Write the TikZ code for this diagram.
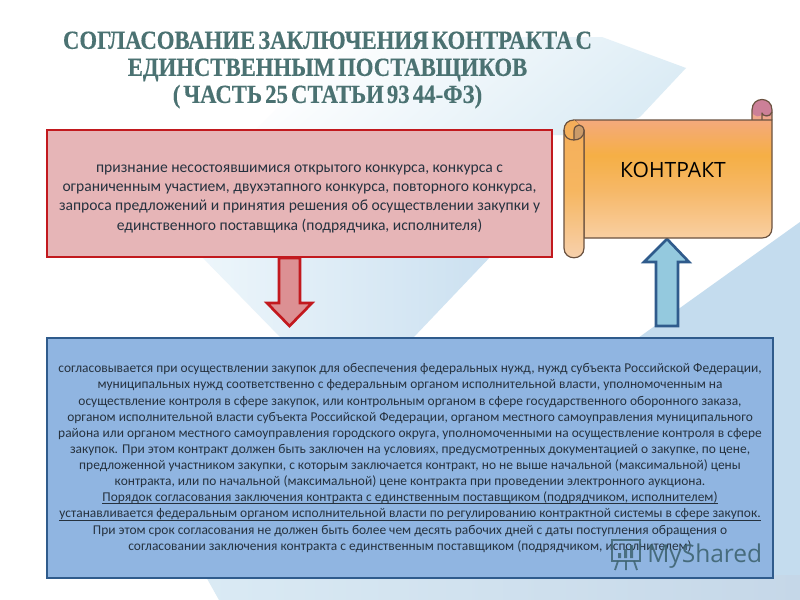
\documentclass[tikz,border=0pt]{standalone}
\usepackage{fontspec}
\setmainfont{Carlito}
\newfontfamily\titlefont[FakeStretch=0.87,WordSpace=0.55,BoldFeatures={FakeBold=0.3}]{Liberation Serif}
\newfontfamily\scrollfont{Open Sans}
\definecolor{titlecol}{HTML}{4B7272}
\definecolor{bodycol}{HTML}{26323F}
\definecolor{redline}{HTML}{C2191E}
\definecolor{redfill}{HTML}{E6B5B7}
\definecolor{blueline}{HTML}{2F5B8C}
\definecolor{bluefill}{HTML}{90B5E1}
\definecolor{scrollline}{HTML}{6B5240}
\definecolor{arrowred}{HTML}{DC9093}
\definecolor{arrowblue}{HTML}{94C9DE}
\definecolor{markcol}{HTML}{3F6472}
\definecolor{sA}{HTML}{F9CFA2}
\definecolor{sB}{HTML}{F6B868}
\definecolor{sC}{HTML}{F5AF45}
\definecolor{sD}{HTML}{F4A97C}
\definecolor{rA}{HTML}{F7D2B0}
\definecolor{rB}{HTML}{F6B660}
\definecolor{rC}{HTML}{F4AE5A}
\definecolor{curlpink}{HTML}{CC8098}
\definecolor{curlpeach}{HTML}{F0A88C}
\definecolor{curltan}{HTML}{CB9B69}
\definecolor{bgtop}{HTML}{DCECF5}
\definecolor{bgVa}{HTML}{EDF6FB}
\definecolor{bgVb}{HTML}{CBE0F0}
\definecolor{bgR}{HTML}{C4DCEE}
\definecolor{bgBa}{HTML}{DAEAF4}
\definecolor{bgBb}{HTML}{C5D7E8}
\pgfdeclareverticalshading{scrollbody}{100bp}{
  color(0bp)=(sA);
  color(25bp)=(sA);
  color(45bp)=(sB);
  color(60bp)=(sC);
  color(75bp)=(sD);
  color(100bp)=(sD)}
\pgfdeclareverticalshading{scrollroll}{100bp}{
  color(0bp)=(rA);
  color(25bp)=(rA);
  color(50bp)=(rB);
  color(75bp)=(rC);
  color(100bp)=(rC)}
\tikzset{
  titletext/.style={font=\titlefont\bfseries\fontsize{19.6}{20.3}\selectfont,text=titlecol,align=center,inner sep=0pt},
  redbox/.style={draw=redline,line width=2.2pt,fill=redfill,minimum width=378.75pt,minimum height=95.25pt,inner sep=0pt,align=center,text=bodycol,font=\fontsize{11.7}{14.5}\selectfont},
  bluebox/.style={draw=blueline,line width=1.9pt,fill=bluefill,minimum width=544.5pt,minimum height=180pt,inner sep=0pt,align=center,text=bodycol,font=\fontsize{10.07}{12.1}\selectfont},
  scrollpart/.style={draw=scrollline,line width=0.9pt,line join=round},
  downarrow/.style={draw=redline,line width=2pt,fill=arrowred,line join=miter},
  uparrow/.style={draw=blueline,line width=2pt,fill=arrowblue,line join=miter},
  watermark/.style={font=\scrollfont\fontsize{18.4}{20}\selectfont,text=markcol,inner sep=0pt}
}
\begin{document}
\begin{tikzpicture}[x=0.75pt,y=-0.75pt]
\useasboundingbox (0,0) rectangle (800,600);
\fill[white] (0,0) rectangle (800,600);
% background shapes
\shade[top color=white,bottom color=bgtop,shading angle=40] (250,135) -- (350,37) -- (602,37) -- (686,68) -- (640,117) -- (600,135) -- cycle;
\shade[left color=bgVa,right color=bgVb] (200,255) -- (281,338) -- (413,338) -- (492,255) -- cycle;
\fill[bgR] (800,222) -- (638,338) -- (638,585) -- (800,600) -- cycle;
\shade[left color=bgBa,right color=bgBb] (205,575) -- (800,575) -- (800,600) -- (219,600) -- cycle;
% title
\node[titletext] (title) at (327.5,70) {СОГЛАСОВАНИЕ ЗАКЛЮЧЕНИЯ КОНТРАКТА С\\ЕДИНСТВЕННЫМ ПОСТАВЩИКОВ\\( ЧАСТЬ 25 СТАТЬИ 93 44-ФЗ)};
% red box
\node[redbox] (rbox) at (299.5,193.5) {\rule{0pt}{13.5pt}признание несостоявшимися открытого конкурса, конкурса с\\ограниченным участием, двухэтапного конкурса, повторного конкурса,\\запроса предложений и принятия решения об осуществлении закупки у\\единственного поставщика (подрядчика, исполнителя)};
% blue box
\node[bluebox] (bbox) at (410,458) {согласовывается при осуществлении закупок для обеспечения федеральных нужд, нужд субъекта Российской Федерации,\\муниципальных нужд соответственно с федеральным органом исполнительной власти, уполномоченным на\\осуществление контроля в сфере закупок, или контрольным органом в сфере государственного оборонного заказа,\\органом исполнительной власти субъекта Российской Федерации, органом местного самоуправления муниципального\\района или органом местного самоуправления городского округа, уполномоченными на осуществление контроля в сфере\\закупок. При этом контракт должен быть заключен на условиях, предусмотренных документацией о закупке, по цене,\\предложенной участником закупки, с которым заключается контракт, но не выше начальной (максимальной) цены\\контракта, или по начальной (максимальной) цене контракта при проведении электронного аукциона.\\\underline{\smash{Порядок согласования заключения контракта с единственным поставщиком (подрядчиком, исполнителем)}}\\\underline{\smash{устанавливается федеральным органом исполнительной власти по регулированию контрактной системы в сфере закупок.}}\\При этом срок согласования не должен быть более чем десять рабочих дней с даты поступления обращения о\\согласовании заключения контракта с единственным поставщиком (подрядчиком, исполнителем)};
% arrows
\draw[downarrow] (279,258) -- (300,258) -- (300,303) -- (312,303) -- (289.5,326) -- (267,303) -- (279,303) -- cycle;
\draw[uparrow] (656,326) -- (678,326) -- (678,262) -- (689,262) -- (667,239) -- (644,262) -- (656,262) -- cycle;
% scroll: top right curl
\fill[curlpeach] (752,120) -- (752,110) -- (772,110) -- (772,120) -- cycle;
\fill[curlpink] (752,110) .. controls (752,96) and (772,96) .. (772,110) -- (772,113) .. controls (772,118) and (762,118) .. (762,113) .. controls (762,118) and (752,118) .. (752,110) -- cycle;
\draw[scrollpart] (752,120) -- (752,110) .. controls (752,96) and (772,96) .. (772,110) -- (772,120);
\draw[scrollpart] (762,120) -- (762,113) .. controls (762,116) and (770,118) .. (772,112);
% scroll body
\draw[scrollpart,shading=scrollbody] (574,120) -- (772,120) -- (772,228) .. controls (772,234) and (768,238) .. (762,238) -- (584,238) -- (584,130) -- cycle;
% scroll left roll
\shade[shading=scrollroll] (564,130) .. controls (564,124) and (568,120) .. (574,120) -- (584,128) -- (584,248) .. controls (584,261) and (564,261) .. (564,248) -- cycle;
\draw[scrollpart] (574,120) .. controls (568,120) and (564,124) .. (564,130) -- (564,248) .. controls (564,261) and (584,261) .. (584,248) -- (584,130);
\draw[scrollpart,fill=curltan] (574,140) -- (574,131) .. controls (574,123) and (584,123) .. (584,131) .. controls (584,137) and (579,140) .. (574,140) -- cycle;
\draw[scrollpart] (564,130) .. controls (564,137) and (568,140) .. (574,140);
\node[font=\scrollfont\fontsize{15.8}{17}\selectfont,text=black,inner sep=0pt] (ktext) at (673,170) {КОНТРАКТ};
% watermark
\node[watermark,opacity=.9,anchor=west] (mark) at (647,556) {MyShared};
\draw[markcol,line width=1.4pt,opacity=.85] (612,540) rectangle (640,561);
\draw[markcol,line width=1.4pt,opacity=.85] (618,561) -- (615,570) (626,561) -- (626,570) (634,561) -- (637,570);
\fill[markcol,opacity=.85] (618,553) rectangle (621,558) (624,549) rectangle (627,558) (630,545) rectangle (633,558);
\end{tikzpicture}
\end{document}
